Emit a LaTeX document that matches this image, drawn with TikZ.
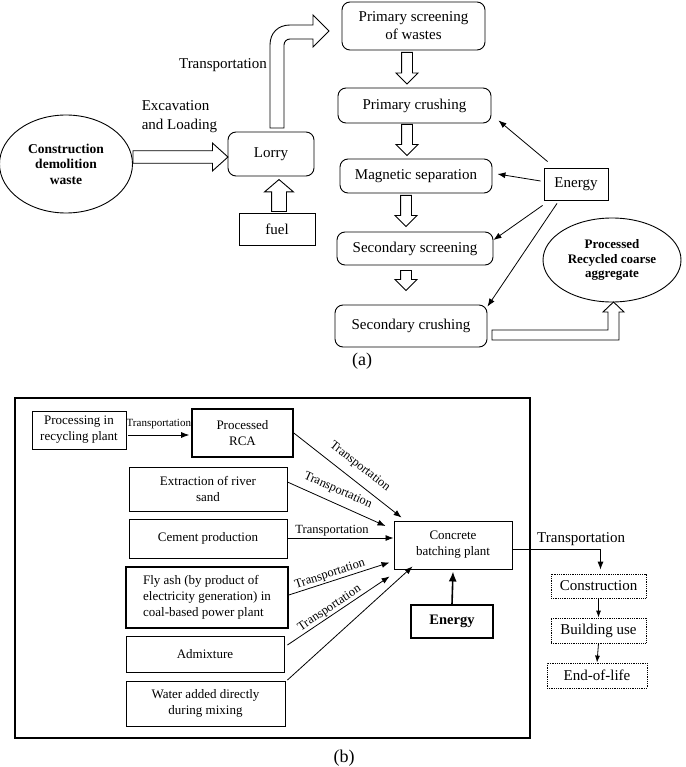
\documentclass[tikz,border=0pt]{standalone}
\usepackage{fontspec}
\setmainfont{Liberation Serif}
\usetikzlibrary{shapes.geometric,shapes.arrows,arrows.meta,calc}

\tikzset{
  stage/.style={draw, rounded corners=8pt, line width=0.9pt, align=center, inner sep=1pt, font=\fontsize{15}{18}\selectfont},
  plainbox/.style={draw, line width=0.9pt, align=center, inner sep=1pt, font=\fontsize{15}{18}\selectfont},
  inputbox/.style={draw, line width=0.9pt, align=center, inner sep=1pt, font=\fontsize{13}{16}\selectfont},
  heavybox/.style={inputbox, line width=1.6pt},
  lifebox/.style={draw, densely dotted, line width=0.8pt, inner sep=1pt, font=\fontsize{15}{17}\selectfont},
  blob/.style={ellipse, draw, line width=0.9pt, align=center, inner sep=0pt, font=\bfseries\fontsize{13.5}{15.5}\selectfont},
  hollow/.style={single arrow, draw, line width=0.9pt, anchor=tail, inner xsep=0pt, outer sep=0pt},
  feed/.style={-{Latex[length=8pt,width=6pt]}, line width=0.8pt},
  haul/.style={inner sep=1pt, font=\fontsize{12.5}{14}\selectfont},
}

\begin{document}
\begin{tikzpicture}[x=1pt, y=-1pt]
  \useasboundingbox (0,0) rectangle (685,767);

  % (a) processing of the waste
  \node[blob, minimum width=133pt, minimum height=98pt] (cdw) at (66,164) {Construction\\demolition\\waste};
  \node[stage, minimum width=86pt, minimum height=44pt] (lorry) at (271,154) {Lorry};
  \node[plainbox, minimum width=76pt, minimum height=32pt] (fuel) at (277,229) {fuel};
  \node[stage, minimum width=143pt, minimum height=48pt] (ps) at (413.5,26) {Primary screening\\of wastes};
  \node[stage, minimum width=153pt, minimum height=35pt] (pc) at (414.5,105.5) {Primary crushing};
  \node[stage, minimum width=152pt, minimum height=34pt] (ms) at (416,176) {Magnetic separation};
  \node[stage, minimum width=156pt, minimum height=33pt] (ss) at (415,248.5) {Secondary screening};
  \node[stage, minimum width=152pt, minimum height=42pt] (sc) at (411,326) {Secondary crushing};
  \node[plainbox, minimum width=64pt, minimum height=32pt] (energy) at (576,184) {Energy};
  \node[blob, font=\bfseries\fontsize{13}{14.5}\selectfont, minimum width=138pt, minimum height=84pt] (prca) at (612,260) {Processed\\Recycled coarse\\aggregate};

  \node[align=left, inner sep=0pt, font=\fontsize{15}{19}\selectfont] (exc) at (179.5,117) {Excavation\\and Loading};
  \node[inner sep=0pt, font=\fontsize{15}{18}\selectfont] (trn) at (223,65) {Transportation};

  \node[hollow, minimum height=95pt, minimum width=27pt, inner ysep=5.8pt, single arrow head extend=7.7pt, single arrow tip angle=84] at ($(cdw.east)+(0,-7)$) {};
  \node[hollow, rotate=90, minimum height=32pt, minimum width=28pt, inner ysep=7pt, single arrow head extend=7pt, single arrow tip angle=99] at ($(fuel.north)+(2,-1)$) {};
  \node[hollow, rotate=-90, minimum height=31.5pt, minimum width=21pt, inner ysep=5pt, single arrow head extend=5.5pt, single arrow tip angle=90] at ($(ps.south)+(-6.5,2)$) {};
  \node[hollow, rotate=-90, minimum height=31pt, minimum width=21pt, inner ysep=5pt, single arrow head extend=5.5pt, single arrow tip angle=90] at ($(pc.south)+(-7.5,1)$) {};
  \node[hollow, rotate=-90, minimum height=31pt, minimum width=21pt, inner ysep=5pt, single arrow head extend=5.5pt, single arrow tip angle=90] at ($(ms.south)+(-10,2)$) {};
  \node[hollow, rotate=-90, minimum height=20pt, minimum width=21pt, inner ysep=5pt, single arrow head extend=5.5pt, single arrow tip angle=90] at ($(ss.south)+(-9,5)$) {};

  % bent arrows
  \draw[line width=0.9pt] (270,128) -- (270,45) .. controls (270,33) and (278,25) .. (290,25) -- (313,25) -- (313,15) -- (329,31) -- (313,47) -- (313,39) -- (290,39) .. controls (286.7,39) and (284,41.7) .. (284,45) -- (284,128) -- cycle;
  \draw[line width=0.9pt] (492,330) -- (608,330) -- (608,312) -- (603,312) -- (613.5,302) -- (624,312) -- (619,312) -- (619,340) -- (492,340) -- cycle;

  \draw[feed] ($(energy.north west)+(4,-6)$) -- ($(pc.south east)+(7,-3)$);
  \draw[feed] ($(energy.west)+(-3,-3)$) -- ($(ms.east)+(5,-2)$);
  \draw[feed] ($(energy.south west)+(-1,5)$) -- ($(ss.east)+(0,-8.5)$);
  \draw[feed] ($(energy.south)+(-19,3)$) -- ($(sc.north east)+(0,2)$);

  \node[font=\fontsize{18}{20}\selectfont] (capa) at (362,361) {(a)};

  % (b) concrete production
  \draw[line width=1.6pt] (15,398) rectangle (530,738);

  \node[inputbox, minimum width=94pt, minimum height=38pt] (proc) at (79,430) {Processing in\\recycling plant};
  \node[heavybox, minimum width=101pt, minimum height=48pt] (rca) at (242.5,433) {Processed\\RCA};
  \node[inputbox, minimum width=158pt, minimum height=44pt] (sand) at (208,489) {Extraction of river\\sand};
  \node[inputbox, minimum width=158pt, minimum height=39pt] (cement) at (208,538.5) {Cement production};
  \node[heavybox, align=left, minimum width=162pt, minimum height=61pt] (flyash) at (207,597.5) {Fly ash (by product of\\electricity generation) in\\coal-based power plant};
  \node[inputbox, minimum width=158pt, minimum height=36pt] (admix) at (205,654) {Admixture};
  \node[inputbox, minimum width=159pt, minimum height=45pt] (water) at (205.5,703.5) {Water added directly\\during mixing};
  \node[inputbox, minimum width=118pt, minimum height=48pt] (cbp) at (453,545) {Concrete\\batching plant};
  \node[heavybox, font=\bfseries\fontsize{14.5}{17}\selectfont, minimum width=82pt, minimum height=33pt] (enb) at (452,621.5) {Energy};
  \node[lifebox, minimum width=95pt, minimum height=24pt] (cons) at (598.5,586) {Construction};
  \node[lifebox, minimum width=95pt, minimum height=25pt] (buse) at (598.5,630.5) {Building use};
  \node[lifebox, minimum width=100pt, minimum height=25pt] (eol) at (597,675.5) {End-of-life};

  \draw[feed] ($(proc.east)+(2,5)$) -- ($(rca.west)+(-2,2)$) node[midway, above=5pt, haul, font=\fontsize{11}{13}\selectfont] {Transportation};
  \draw[feed] (rca.east) -- ($(cbp.north west)+(8,-3)$) node[pos=0.53, sloped, above=7.5pt, haul] {Transportation};
  \draw[feed] ($(sand.east)+(0,-7)$) -- ($(cbp.west)+(-8,-19)$) node[pos=0.46, sloped, above=6pt, haul] {Transportation};
  \draw[feed] ($(cement.east)+(0,-0.5)$) -- ($(cbp.west)+(0,-7)$) node[pos=0.42, above, haul] {Transportation};
  \draw[feed] ($(flyash.east)+(0,-2.5)$) -- ($(cbp.south west)+(-4,-7)$) node[pos=0.43, sloped, above, haul] {Transportation};
  \draw[feed] ($(admix.east)+(3,-9)$) -- ($(cbp.south west)+(-4,7)$) node[pos=0.45, sloped, above=0pt, haul] {Transportation};
  \draw[feed] ($(water.east)+(2,-23.5)$) -- ($(cbp.south west)+(19,-3)$);
  \draw[line width=1.6pt, -{Latex[length=10pt,width=8pt]}] (enb.north) -- ($(cbp.south)+(0,2)$);

  \draw[feed] ($(cbp.east)+(0,4)$) -| ($(cons.north)+(2,-4)$) node[pos=0.39, above=2pt, inner sep=1pt, font=\fontsize{15}{17}\selectfont] {Transportation};
  \draw[feed, -{Latex[length=7pt,width=5pt]}] (cons.south) -- (buse.north);
  \draw[feed, -{Latex[length=7pt,width=5pt]}] (buse.south) -- (eol.north);

  \node[font=\fontsize{18}{20}\selectfont] (capb) at (344,758) {(b)};
\end{tikzpicture}
\end{document}
